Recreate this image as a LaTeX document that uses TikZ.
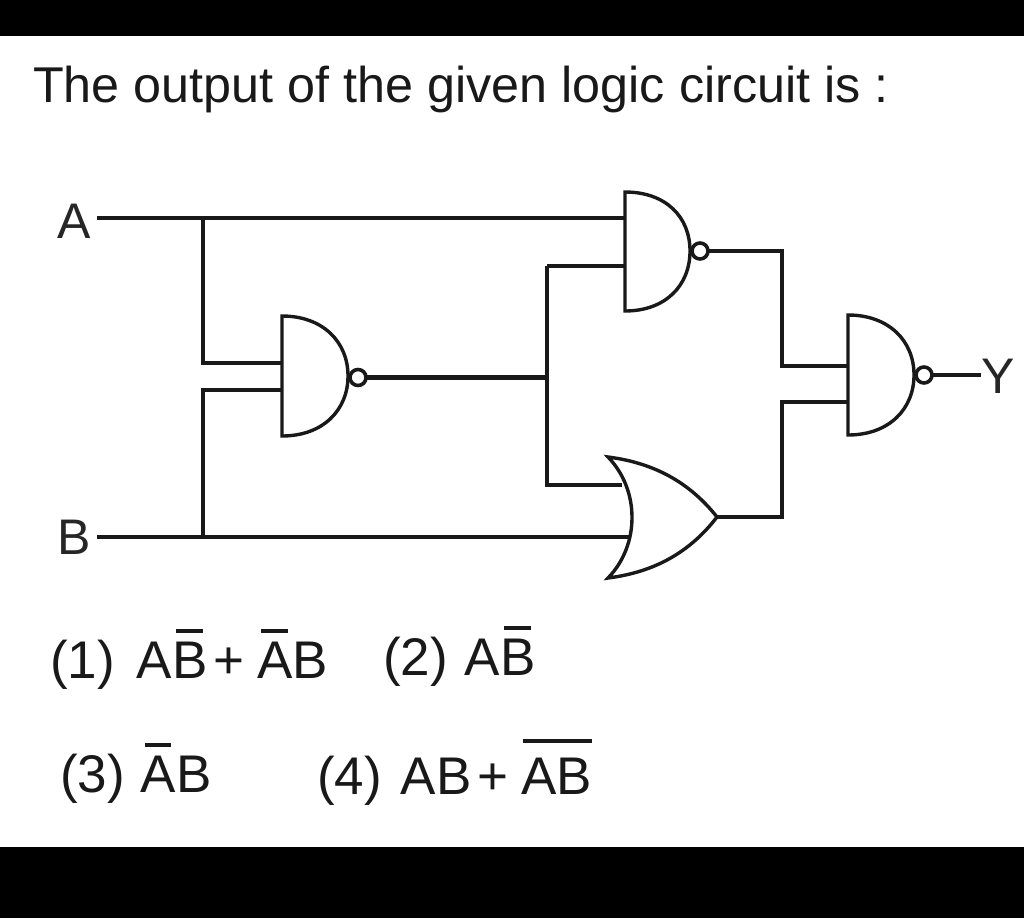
\documentclass[tikz,border=0pt]{standalone}
\usepackage{fontspec}
\setmainfont{Liberation Sans}
\tikzset{
 wire/.style={line width=4.6pt,black!90,line join=miter},
 mid wire/.style={line width=3.8pt,black!90,line join=miter},
 thin wire/.style={line width=3.2pt,black!90,line join=miter},
 gate/.style={line width=3.4pt,black!90,line join=miter},
 lbl/.style={inner sep=0pt,font=\fontsize{50pt}{52pt}\selectfont,text=black!85,anchor=base},
 opt/.style={inner sep=0pt,font=\fontsize{53pt}{56pt}\selectfont,text=black!90,anchor=base west},
 bubble/.style={circle,draw=black!90,line width=3.6pt,minimum size=16pt,inner sep=0pt,outer sep=0pt,fill=white},
}
\newcommand{\ob}[1]{\leavevmode\rlap{\hspace{.07em}\rule[.85em]{.5em}{.07em}}#1}
\newcommand{\obb}[1]{\leavevmode\rlap{\hspace{.02em}\rule[.96em]{1.3em}{.07em}}#1}
\begin{document}
\begin{tikzpicture}[x=1pt,y=-1pt]
\useasboundingbox (0,0) rectangle (1024,918);
\fill[white] (0,0) rectangle (1024,918);
\fill[black] (0,0) rectangle (1024,36);
\fill[black] (0,847) rectangle (1024,918);
\node[inner sep=0pt,anchor=base west,font=\fontsize{50.3pt}{54pt}\selectfont,text=black!90] (title) at (33,102) {The output of the given logic circuit is :};
% labels
\node[lbl] (A) at (74,238) {A};
\node[lbl] (B) at (74,554) {B};
\node[lbl] (Y) at (998,393) {Y};
% junctions
\coordinate (ja) at (203,218);
\coordinate (jb) at (203,537);
\coordinate (g1a) at (282,363);
\coordinate (g1b) at (282,390);
\coordinate (g2a) at (625,218);
\coordinate (g2b) at (625,266);
\coordinate (g3a) at (622,485);
\coordinate (g3b) at (630,537);
\coordinate (g4a) at (848,366);
\coordinate (g4b) at (848,402);
\coordinate (m) at (547,377.5);
% gates
\draw[gate] (282,316) -- (282,436) .. controls (323,436) and (348,410) .. (348,376) .. controls (348,342) and (323,316) .. (282,316) -- cycle;
\draw[gate] (625,192) -- (625,311) .. controls (666,311) and (690,285) .. (690,251) .. controls (690,217) and (666,192) .. (625,192) -- cycle;
\draw[gate] (848,315) -- (848,435) .. controls (889,435) and (914,409) .. (914,375) .. controls (914,341) and (889,315) .. (848,315) -- cycle;
\draw[gate] (608,457) .. controls (640,490) and (640,545) .. (608,578) .. controls (655,572) and (690,552) .. (717,517) .. controls (690,483) and (655,463) .. (608,457) -- cycle;
\node[bubble] (n1) at (358,377.5) {};
\node[bubble] (n2) at (700,251) {};
\node[bubble] (n4) at (924,375) {};
\coordinate (orout) at (717,517);
% wires
\draw[wire] (A.east |- ja) ++(6,0) coordinate (as) -- (ja) -- (g2a);
\draw[wire] (B.east |- jb) ++(6,0) coordinate (bs) -- (jb) -- (g3b);
\draw[mid wire] (ja) -- (203,363) -- (g1a);
\draw[mid wire] (jb) -- (203,390) -- (g1b);
\draw[wire] (n1) -- (m);
\draw[mid wire] (m |- g2b) -- (g2b);
\draw[mid wire] (m |- g2b) -- (m |- g3a) -- (g3a);
\draw[thin wire] (n2) -- (782,251) -- (782,366) -- (g4a);
\draw[thin wire] (orout) -- (782,517) -- (782,402) -- (g4b);
\draw[wire] (n4) -- (Y.west |- n4);
% options
\node[opt] (o1) at (50,678) {(1)\hspace{22pt}A\ob{B}\hspace{6pt}+\hspace{13pt}\ob{A}B};
\node[opt] (o2) at (383,675) {(2)\hspace{17pt}A\ob{B}};
\node[opt] (o3) at (60,792) {(3)\hspace{16pt}\ob{A}B};
\node[opt] (o4) at (317,794) {(4)\hspace{19pt}AB\hspace{6pt}+\hspace{13pt}\obb{AB}};
\end{tikzpicture}
\end{document}
